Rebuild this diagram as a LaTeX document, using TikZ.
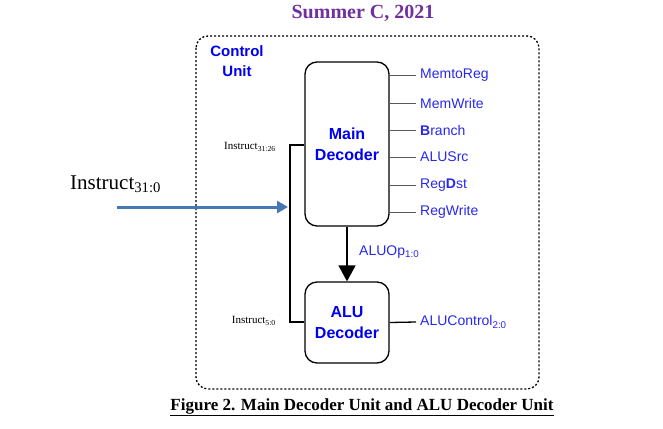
\documentclass[tikz,border=0pt]{standalone}
\usepackage{fontspec}
\setmainfont{Liberation Serif}
\newfontfamily\sansf{Liberation Sans}
\usetikzlibrary{arrows.meta}
\definecolor{lblue}{RGB}{40,40,235}
\definecolor{pblue}{RGB}{0,0,240}
\definecolor{purp}{RGB}{112,48,160}
\definecolor{arrblue}{RGB}{70,120,180}
\begin{document}
\begin{tikzpicture}[x=1pt,y=-1pt,
  dec/.style={draw,line width=1.3pt,rounded corners=12pt,font=\sansf\bfseries\fontsize{16}{21}\selectfont,text=pblue,align=center,inner sep=0pt},
  outl/.style={anchor=west,font=\sansf\fontsize{14}{16}\selectfont,text=lblue,inner sep=0pt},
  sm/.style={font=\fontsize{11}{13}\selectfont,inner sep=0pt}]
\useasboundingbox (0,0) rectangle (663,428);
\node[font=\bfseries\fontsize{20}{22}\selectfont,text=purp] (title) at (363,13) {Summer C, 2021};
\draw[dashed,line width=1.3pt,dash pattern=on 2pt off 2pt,rounded corners=12pt] (196,36) rectangle (539,389);
\node[font=\sansf\bfseries\fontsize{15}{20}\selectfont,text=pblue,align=center] (cu) at (237,61) {Control\\Unit};
\node[dec,minimum width=84pt,minimum height=164pt] (main) at (347,144) {Main\\Decoder};
\node[dec,minimum width=84pt,minimum height=81pt] (alu) at (347,322.5) {ALU\\Decoder};
\foreach \y/\t [count=\i] in {75/MemtoReg,103/MemWrite,130/{\bfseries B}ranch,157/ALUSrc,185/Reg{\bfseries D}st,212/RegWrite}{
  \coordinate (o\i) at (389,\y);
  \node[outl] (l\i) at (420,\y) {\t};
  \draw[gray!70!black,line width=0.7pt] (o\i) -- ([xshift=-4pt]l\i.west);
}
\coordinate (b1) at (290,145);
\coordinate (b2) at (290,322);
\draw[line width=2pt] (main.west |- b1) -- (b1) -- (b2) -- (alu.west |- b2);
\node[sm,anchor=east] (i1) at (276,147) {Instruct\textsubscript{31:26}};
\node[sm,anchor=east] (i2) at (276,321) {Instruct\textsubscript{5:0}};
\node[font=\fontsize{21}{24}\selectfont,anchor=west,inner sep=0pt] (in) at (70,184) {Instruct\textsubscript{31:0}};
\coordinate (as) at (117,207);
\coordinate (ae) at (288,207);
\draw[arrblue,line width=3pt,-{Triangle[length=11pt,width=12pt]}] (as) -- (ae);
\draw[line width=1.5pt,-{Triangle[length=16pt,width=17pt]}] (main.south) -- (alu.north);
\node[outl] (aluop) at (359,252) {ALUOp\textsubscript{1:0}};
\node[outl] (aluc) at (420,322) {ALUControl\textsubscript{2:0}};
\draw[line width=1.3pt] (alu.east) -- ([xshift=-4pt]aluc.west);
\node[font=\bfseries\fontsize{17}{20}\selectfont] (cap) at (362,407) {\underline{Figure 2. Main Decoder Unit and ALU Decoder Unit}};
\end{tikzpicture}
\end{document}
